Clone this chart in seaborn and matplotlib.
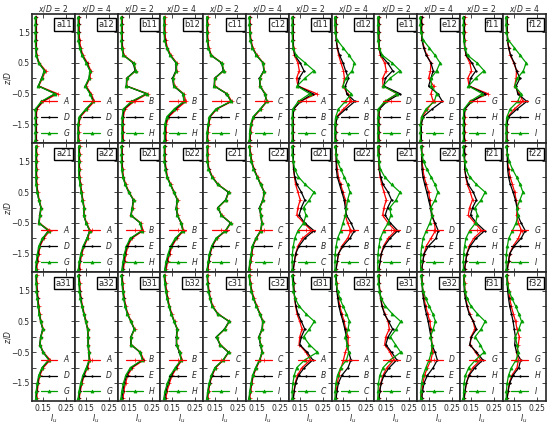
import matplotlib
matplotlib.use("Agg")
import matplotlib.pyplot as plt
import numpy as np
import seaborn as sns

# z/D stations (top to bottom)
z = [2.0, 1.75, 1.5, 1.25, 1.0, 0.75, 0.5, 0.25, 0.0, -0.25, -0.5, -0.75, -1.0, -1.25, -1.5, -1.75, -2.0]

# each panel: (red, black, green) Iu profiles
a11 = ([.120, .120, .120, .120, .120, .121, .132, .160, .146, .130, .212, .150, .121, .120, .120, .120, .120],
       [.118, .118, .118, .118, .118, .120, .130, .155, .142, .128, .202, .146, .118, .118, .118, .118, .118],
       [.115, .115, .115, .115, .116, .118, .129, .155, .143, .128, .200, .141, .115, .115, .115, .115, .115])
a12 = ([.120, .120, .120, .121, .126, .136, .156, .170, .166, .150, .172, .186, .155, .125, .118, .118, .118],
       [.117, .117, .117, .118, .123, .133, .152, .167, .163, .147, .168, .182, .150, .122, .116, .116, .116],
       [.115, .115, .115, .116, .121, .131, .150, .166, .162, .146, .166, .180, .148, .120, .114, .114, .114])
b11 = ([.121, .121, .121, .121, .122, .128, .172, .180, .142, .140, .232, .172, .132, .126, .125, .125, .125],
       [.119, .119, .119, .119, .120, .126, .168, .177, .140, .138, .226, .165, .128, .123, .122, .122, .122],
       [.117, .117, .117, .117, .118, .125, .170, .180, .141, .139, .228, .160, .125, .120, .119, .119, .119])
b12 = ([.121, .121, .121, .123, .131, .146, .172, .171, .156, .162, .202, .212, .172, .137, .126, .125, .125],
       [.118, .118, .118, .120, .128, .143, .168, .168, .153, .158, .198, .205, .165, .132, .122, .121, .121],
       [.116, .116, .116, .118, .127, .142, .170, .170, .155, .160, .200, .202, .160, .128, .119, .118, .118])
c11 = ([.120, .120, .120, .121, .125, .136, .182, .190, .152, .150, .205, .225, .160, .131, .125, .121, .120],
       [.118, .118, .118, .119, .123, .134, .180, .188, .150, .148, .202, .222, .157, .129, .123, .119, .118],
       [.116, .116, .116, .117, .122, .133, .182, .190, .151, .149, .204, .220, .155, .127, .121, .117, .116])
c12 = ([.118, .118, .119, .122, .130, .148, .176, .180, .161, .163, .184, .192, .165, .135, .124, .120, .119],
       [.116, .116, .117, .120, .128, .146, .174, .178, .159, .161, .182, .190, .163, .133, .122, .118, .117],
       [.115, .115, .116, .119, .127, .145, .175, .179, .160, .162, .183, .191, .162, .131, .120, .116, .115])
d11 = ([.120, .120, .120, .120, .121, .125, .140, .146, .134, .140, .222, .150, .121, .120, .120, .120, .120],
       [.119, .119, .119, .119, .120, .126, .150, .166, .145, .140, .205, .152, .121, .119, .119, .119, .119],
       [.115, .115, .115, .116, .119, .132, .172, .210, .170, .136, .192, .142, .117, .115, .115, .115, .115])
d12 = ([.120, .120, .120, .121, .125, .131, .141, .152, .156, .150, .170, .186, .152, .122, .118, .118, .118],
       [.119, .119, .119, .120, .125, .135, .150, .161, .174, .160, .166, .202, .162, .125, .118, .118, .118],
       [.114, .114, .116, .124, .150, .176, .200, .190, .162, .150, .186, .160, .130, .118, .114, .114, .114])
e11 = ([.120, .120, .120, .120, .121, .126, .145, .152, .136, .138, .200, .148, .121, .120, .120, .120, .120],
       [.119, .119, .119, .119, .121, .128, .158, .180, .148, .142, .212, .155, .122, .119, .119, .119, .119],
       [.115, .115, .115, .116, .120, .135, .178, .212, .168, .138, .200, .145, .117, .115, .115, .115, .115])
e12 = ([.120, .120, .120, .122, .130, .142, .160, .158, .150, .172, .160, .170, .145, .122, .118, .118, .118],
       [.119, .119, .119, .121, .128, .140, .160, .170, .160, .150, .190, .210, .165, .126, .118, .118, .118],
       [.114, .114, .116, .126, .152, .178, .200, .185, .160, .162, .185, .175, .138, .119, .114, .114, .114])
f11 = ([.120, .120, .120, .120, .121, .126, .143, .150, .134, .140, .222, .150, .121, .120, .120, .120, .120],
       [.119, .119, .119, .119, .121, .127, .152, .170, .146, .140, .210, .152, .121, .119, .119, .119, .119],
       [.115, .115, .115, .116, .120, .133, .175, .205, .168, .137, .198, .143, .117, .115, .115, .115, .115])
f12 = ([.120, .120, .120, .121, .126, .133, .148, .160, .158, .152, .172, .188, .150, .122, .118, .118, .118],
       [.119, .119, .119, .120, .125, .134, .150, .160, .175, .158, .165, .205, .162, .125, .118, .118, .118],
       [.114, .114, .116, .124, .150, .176, .202, .190, .164, .152, .180, .165, .132, .118, .114, .114, .114])

a21 = ([.121, .121, .121, .121, .121, .122, .126, .132, .141, .136, .132, .178, .152, .136, .130, .125, .121],
       [.119, .119, .119, .119, .119, .120, .124, .130, .139, .134, .130, .172, .148, .133, .127, .122, .118],
       [.117, .117, .117, .117, .117, .118, .123, .130, .140, .135, .131, .174, .146, .130, .124, .119, .116])
a22 = ([.121, .121, .121, .121, .122, .126, .131, .136, .142, .141, .152, .168, .157, .142, .131, .125, .121],
       [.119, .119, .119, .119, .120, .124, .129, .134, .140, .139, .150, .165, .154, .139, .128, .122, .118],
       [.117, .117, .117, .117, .118, .123, .128, .134, .140, .139, .150, .166, .153, .137, .126, .120, .116])
b21 = ([.121, .121, .121, .122, .126, .136, .151, .171, .166, .160, .202, .212, .162, .146, .137, .131, .126],
       [.119, .119, .119, .120, .124, .134, .149, .169, .164, .158, .199, .208, .158, .142, .133, .127, .122],
       [.117, .117, .117, .118, .123, .133, .149, .170, .165, .159, .200, .206, .155, .139, .130, .124, .119])
b22 = ([.121, .121, .121, .126, .131, .146, .161, .176, .171, .176, .192, .202, .172, .152, .141, .132, .126],
       [.119, .119, .119, .124, .129, .144, .159, .174, .169, .174, .190, .199, .168, .148, .137, .128, .122],
       [.117, .117, .117, .122, .128, .143, .159, .175, .170, .175, .191, .198, .165, .145, .134, .125, .119])
c21 = ([.121, .121, .121, .126, .141, .166, .212, .200, .166, .181, .221, .200, .160, .141, .131, .126, .121],
       [.119, .119, .119, .124, .139, .164, .210, .198, .164, .179, .219, .198, .158, .139, .129, .124, .119],
       [.117, .117, .118, .123, .138, .164, .211, .199, .165, .180, .220, .197, .156, .137, .127, .122, .117])
c22 = ([.117, .121, .126, .136, .151, .166, .181, .176, .161, .166, .171, .166, .146, .131, .126, .121, .116],
       [.115, .119, .124, .134, .149, .164, .179, .174, .159, .164, .169, .164, .144, .129, .124, .119, .114],
       [.114, .118, .123, .133, .148, .164, .180, .175, .160, .165, .170, .164, .143, .128, .122, .117, .113])
d21 = ([.120, .120, .120, .121, .125, .130, .140, .150, .140, .135, .165, .200, .160, .140, .130, .125, .120],
       [.120, .120, .120, .121, .126, .136, .155, .170, .155, .145, .170, .210, .170, .145, .130, .125, .120],
       [.115, .115, .120, .126, .142, .172, .210, .190, .165, .175, .165, .140, .126, .120, .116, .115, .115])
d22 = ([.120, .120, .121, .125, .130, .140, .150, .160, .165, .160, .170, .185, .170, .145, .130, .125, .120],
       [.120, .120, .120, .121, .125, .135, .145, .155, .160, .165, .185, .200, .180, .150, .130, .125, .120],
       [.115, .120, .126, .140, .155, .170, .180, .170, .165, .160, .150, .140, .126, .120, .116, .115, .115])
e21 = ([.120, .120, .120, .121, .125, .132, .142, .152, .142, .136, .160, .192, .160, .140, .130, .125, .120],
       [.120, .120, .120, .121, .127, .138, .160, .175, .158, .147, .170, .202, .168, .144, .130, .125, .120],
       [.115, .115, .120, .126, .145, .175, .212, .195, .168, .172, .160, .140, .126, .120, .116, .115, .115])
e22 = ([.120, .120, .121, .125, .130, .140, .150, .155, .160, .165, .175, .180, .160, .140, .130, .125, .120],
       [.120, .120, .120, .121, .125, .133, .142, .150, .158, .163, .178, .192, .182, .150, .130, .125, .120],
       [.115, .120, .128, .142, .160, .178, .190, .178, .160, .166, .155, .140, .126, .120, .116, .115, .115])
f21 = ([.120, .120, .120, .121, .125, .132, .145, .155, .142, .136, .165, .195, .160, .140, .130, .125, .120],
       [.120, .120, .120, .121, .126, .136, .158, .172, .155, .146, .172, .208, .170, .145, .130, .125, .120],
       [.115, .115, .120, .126, .142, .172, .210, .192, .166, .176, .168, .142, .126, .120, .116, .115, .115])
f22 = ([.120, .120, .121, .125, .132, .142, .152, .158, .165, .160, .168, .182, .168, .145, .130, .125, .120],
       [.120, .120, .120, .121, .125, .133, .145, .155, .162, .165, .180, .198, .180, .150, .130, .125, .120],
       [.115, .120, .128, .142, .160, .176, .188, .175, .162, .166, .158, .142, .126, .120, .116, .115, .115])

a31 = ([.121, .122, .124, .127, .130, .134, .140, .150, .140, .136, .150, .180, .150, .135, .128, .124, .121],
       [.119, .120, .122, .125, .128, .132, .138, .147, .138, .134, .148, .175, .146, .132, .125, .121, .118],
       [.117, .118, .120, .123, .127, .131, .138, .148, .139, .135, .149, .173, .144, .130, .123, .119, .116])
a32 = ([.120, .122, .124, .128, .134, .142, .150, .158, .160, .160, .163, .166, .156, .142, .132, .125, .120],
       [.118, .120, .122, .126, .132, .140, .148, .156, .158, .158, .161, .164, .153, .139, .129, .122, .117],
       [.116, .118, .120, .124, .131, .139, .148, .156, .158, .158, .161, .163, .151, .136, .126, .119, .115])
b31 = ([.121, .123, .126, .130, .136, .145, .160, .175, .160, .160, .200, .215, .165, .145, .135, .128, .124],
       [.119, .121, .124, .128, .134, .143, .158, .173, .158, .158, .198, .210, .160, .140, .130, .123, .119],
       [.117, .119, .122, .126, .133, .142, .158, .174, .159, .159, .199, .208, .156, .136, .126, .119, .115])
b32 = ([.120, .123, .127, .133, .140, .150, .162, .175, .172, .172, .185, .195, .172, .152, .140, .130, .124],
       [.118, .121, .125, .131, .138, .148, .160, .173, .170, .170, .183, .192, .168, .148, .135, .125, .119],
       [.116, .119, .123, .129, .137, .147, .160, .174, .171, .171, .184, .191, .165, .144, .131, .121, .115])
c31 = ([.120, .122, .126, .132, .142, .165, .215, .195, .160, .175, .212, .190, .155, .140, .130, .124, .120],
       [.118, .120, .124, .130, .140, .163, .213, .193, .158, .173, .210, .188, .153, .138, .128, .122, .118],
       [.117, .119, .123, .129, .139, .163, .214, .194, .159, .174, .211, .187, .151, .136, .126, .120, .116])
c32 = ([.116, .120, .126, .135, .148, .162, .175, .172, .158, .165, .172, .162, .146, .133, .126, .121, .116],
       [.114, .118, .124, .133, .146, .160, .173, .170, .156, .163, .170, .160, .144, .131, .124, .119, .114],
       [.113, .117, .123, .132, .145, .160, .174, .171, .157, .164, .171, .159, .142, .129, .122, .117, .113])
d31 = ([.120, .121, .123, .126, .130, .136, .148, .158, .148, .145, .175, .195, .158, .138, .128, .123, .120],
       [.120, .121, .123, .126, .131, .140, .155, .170, .155, .148, .180, .205, .168, .143, .130, .124, .120],
       [.115, .117, .120, .128, .145, .175, .212, .190, .165, .190, .225, .170, .135, .124, .118, .115, .115])
d32 = ([.120, .122, .125, .130, .136, .145, .155, .162, .172, .172, .160, .152, .142, .132, .125, .121, .119],
       [.120, .121, .123, .127, .132, .140, .150, .158, .165, .168, .175, .185, .172, .145, .130, .124, .120],
       [.116, .120, .126, .136, .150, .165, .178, .172, .160, .168, .175, .165, .140, .126, .119, .116, .115])
e31 = ([.120, .121, .124, .128, .135, .145, .160, .165, .150, .145, .168, .185, .155, .138, .128, .123, .120],
       [.120, .121, .123, .127, .133, .144, .162, .180, .160, .150, .175, .198, .165, .142, .130, .124, .120],
       [.116, .118, .122, .130, .148, .178, .215, .195, .170, .192, .215, .170, .138, .124, .118, .116, .115])
e32 = ([.120, .122, .125, .130, .137, .146, .155, .160, .162, .165, .168, .160, .145, .132, .125, .121, .119],
       [.120, .121, .123, .127, .132, .140, .148, .154, .160, .164, .178, .188, .170, .145, .130, .124, .120],
       [.116, .120, .126, .137, .152, .168, .180, .170, .158, .165, .162, .152, .138, .126, .119, .116, .115])
f31 = ([.119, .120, .122, .126, .132, .142, .158, .165, .148, .145, .168, .190, .156, .138, .128, .123, .119],
       [.116, .117, .119, .123, .130, .140, .158, .172, .150, .142, .172, .200, .165, .140, .128, .122, .118],
       [.116, .118, .122, .130, .148, .176, .210, .192, .166, .188, .205, .168, .138, .124, .118, .116, .115])
f32 = ([.120, .122, .125, .130, .137, .146, .156, .162, .172, .168, .160, .168, .162, .140, .128, .123, .119],
       [.118, .119, .121, .125, .130, .138, .145, .150, .155, .152, .160, .178, .170, .145, .130, .124, .119],
       [.116, .120, .127, .140, .156, .170, .182, .170, .155, .162, .168, .158, .138, .125, .119, .116, .115])

panels = [
    ["a11", "a12", "b11", "b12", "c11", "c12", "d11", "d12", "e11", "e12", "f11", "f12"],
    ["a21", "a22", "b21", "b22", "c21", "c22", "d21", "d22", "e21", "e22", "f21", "f22"],
    ["a31", "a32", "b31", "b32", "c31", "c32", "d31", "d32", "e31", "e32", "f31", "f32"],
]
legend_names = {"a": "ADG", "b": "BEH", "c": "CFI", "d": "ABC", "e": "DEF", "f": "GHI"}
colors = ["#ff0000", "#000000", "#00a000"]
markers = ["+", ".", "^"]

sns.set_style("ticks")
plt.rcParams["font.family"] = ["DejaVu Sans"]
plt.rcParams["font.size"] = 5.5

fig, axes = plt.subplots(3, 12, figsize=(5.5, 4.28), dpi=100, sharex=True, sharey=True)
fig.subplots_adjust(left=0.058, right=0.992, top=0.968, bottom=0.062, wspace=0, hspace=0)

for i, row in enumerate(panels):
    for j, name in enumerate(row):
        ax = axes[i, j]
        curves = globals()[name]
        labels = legend_names[name[0]]
        for c in range(3):
            sns.lineplot(x=curves[c], y=z, orient="y", sort=False, estimator=None, ax=ax,
                         color=colors[c], linestyle="-", marker=markers[c], markersize=2.2,
                         markeredgewidth=0.5, markeredgecolor=colors[c], lw=0.9, label=labels[c])
        ax.set_xlim(0.1, 0.287)
        ax.set_ylim(-2.1, 2.1)
        ax.set_xticks([0.15, 0.25])
        ax.set_yticks([-1.5, -1.0, -0.5, 0.0, 0.5, 1.0, 1.5])
        ax.set_yticklabels(["\u22121.5", "", "\u22120.5", "", "0.5", "", "1.5"])
        ax.tick_params(direction="in", length=3, width=0.6, top=True, right=True, labelsize=5.5, pad=1.5)
        for s in ax.spines.values():
            s.set_linewidth(1.2)
        ax.set_xlabel("$I_u$" if i == 2 else "", fontsize=5.5, labelpad=0)
        ax.set_ylabel("$z/D$" if j == 0 else "", fontsize=5.5, labelpad=-1)
        ax.text(0.93, 0.95, name, transform=ax.transAxes, ha="right", va="top", fontsize=6,
                bbox=dict(boxstyle="square,pad=0.2", fc="white", ec="black", lw=1))
        leg = ax.legend(loc="lower right", frameon=False, fontsize=5.5, handlelength=2.2,
                        handletextpad=0.8, labelspacing=0.9, borderaxespad=0.3)
        for t in leg.get_texts():
            t.set_fontstyle("italic")
        if i == 0:
            ax.set_title(r"$x/D$ = " + ("2" if j % 2 == 0 else "4"), fontsize=5.5, pad=1)

fig.savefig("out.png", dpi=100)
